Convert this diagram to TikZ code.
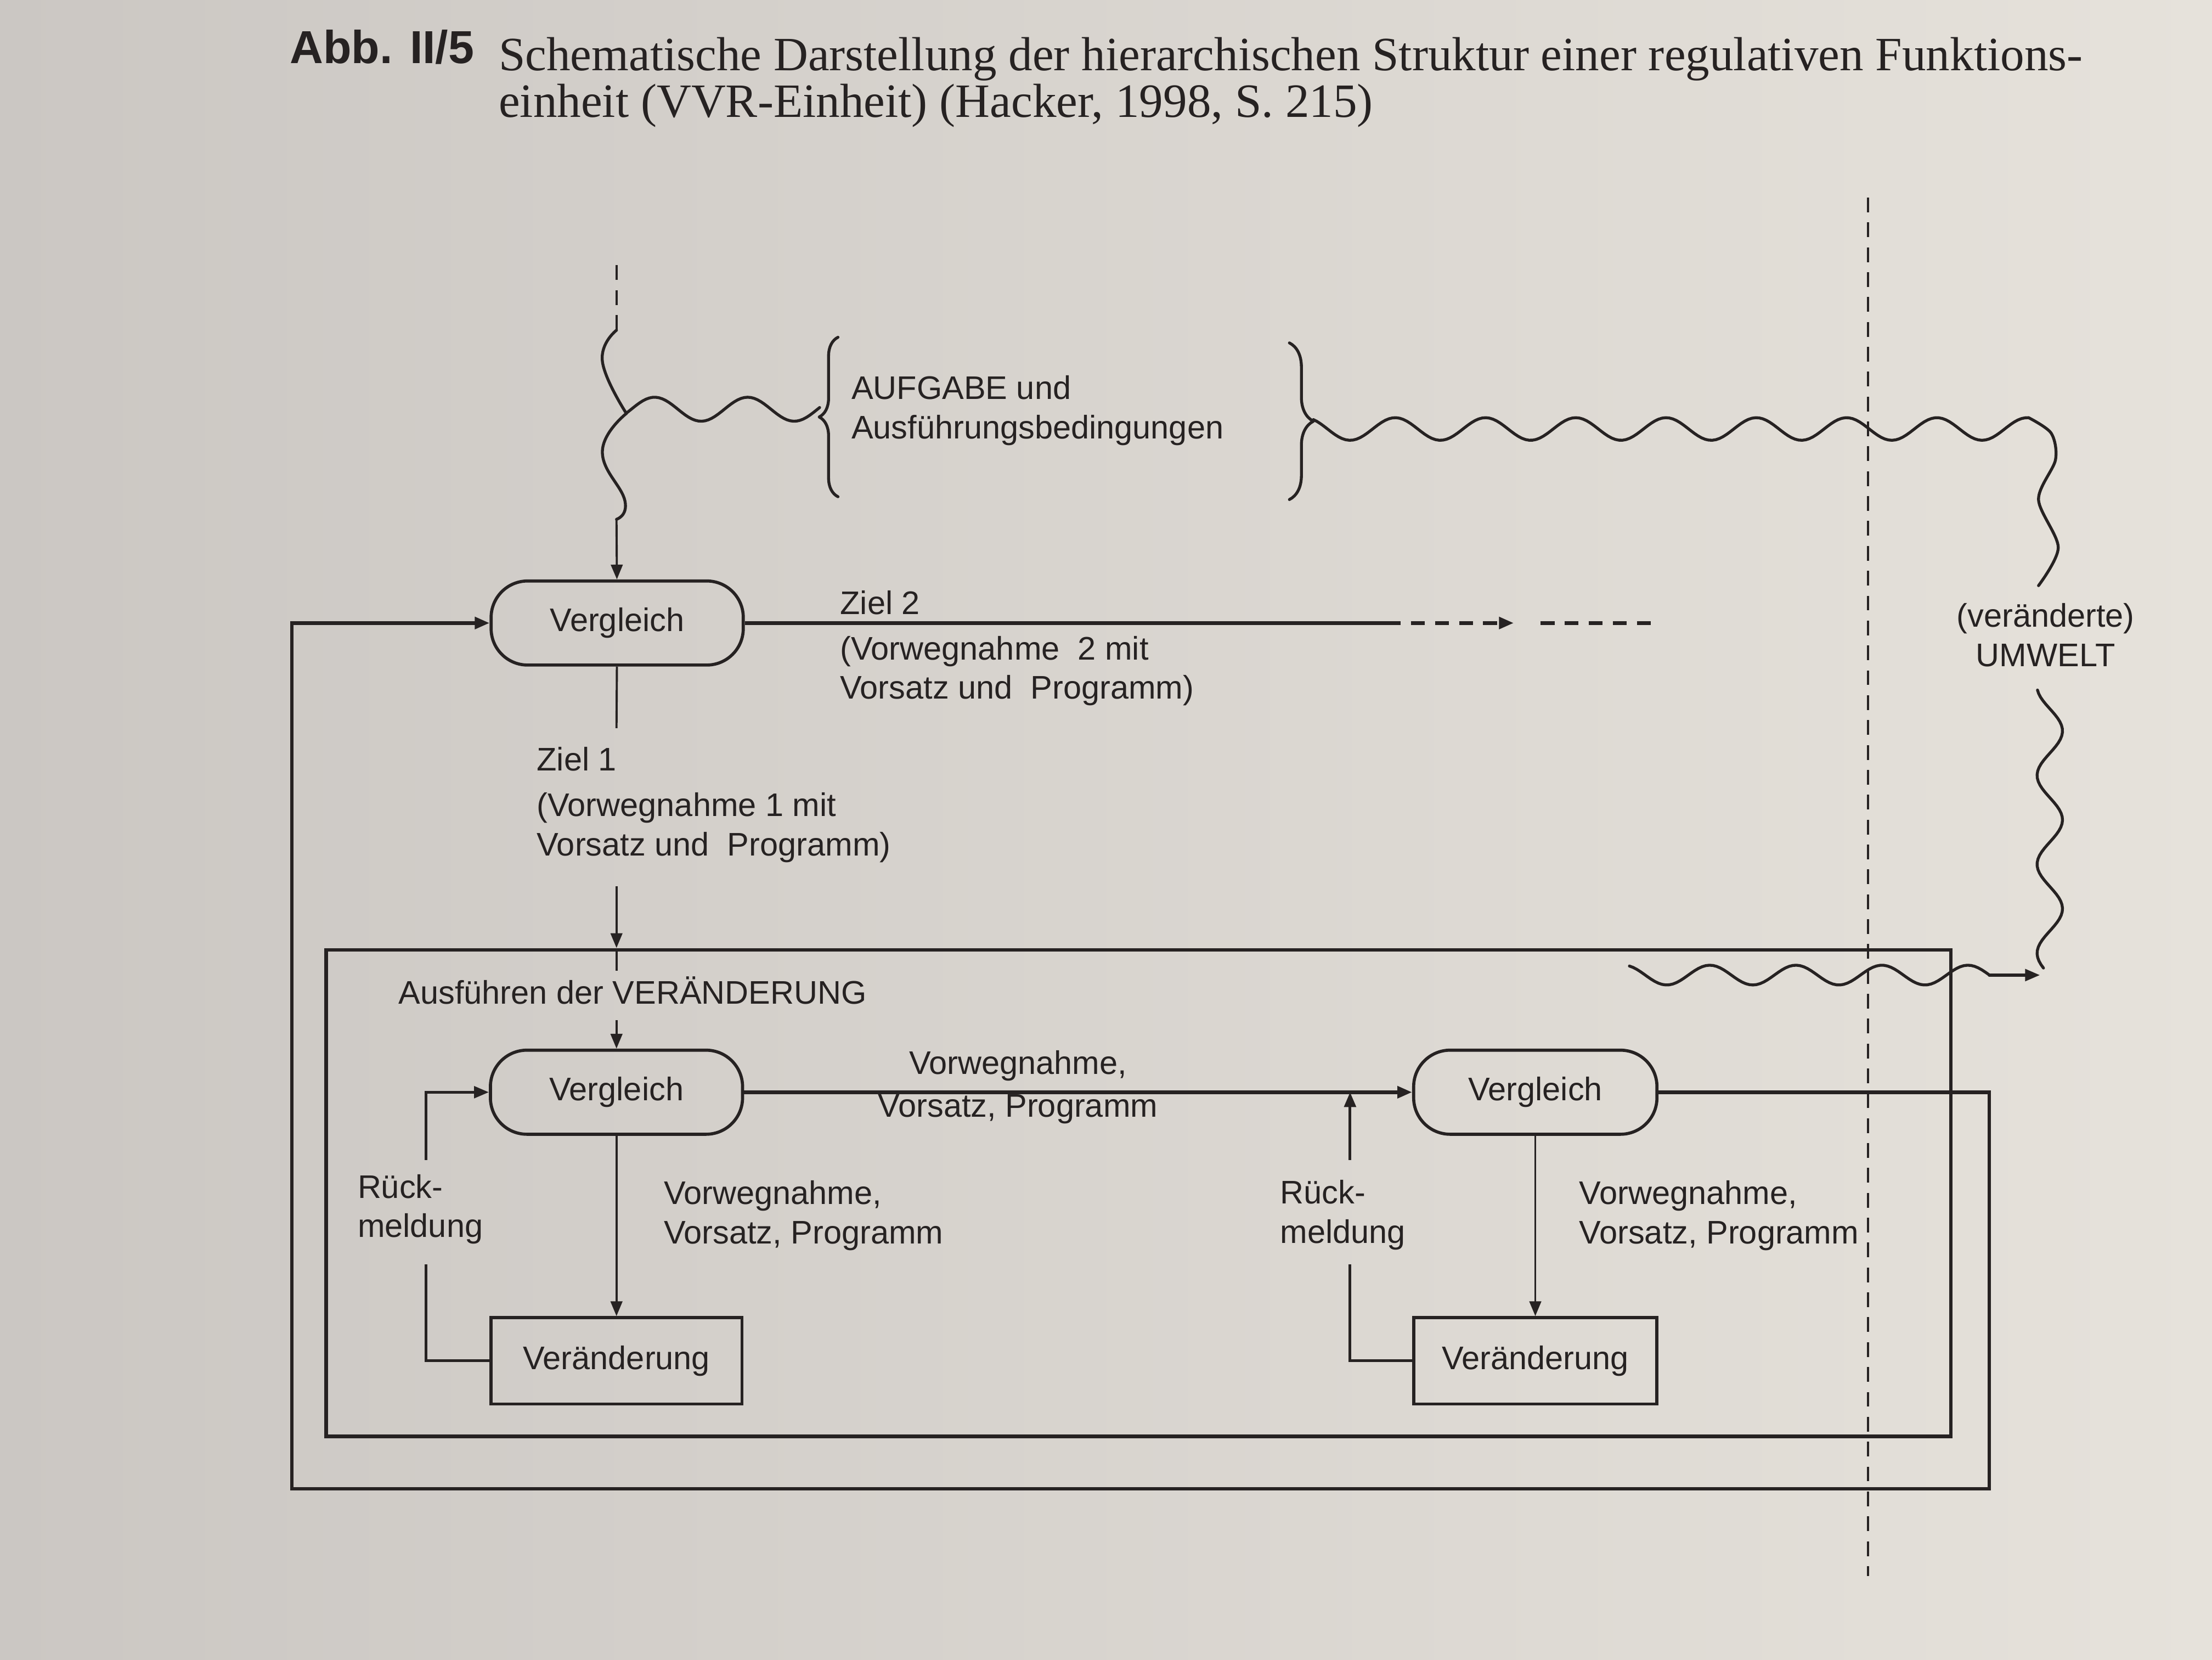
\documentclass[tikz,border=0pt]{standalone}
\usepackage{fontspec}
\setmainfont{Liberation Serif}
\setsansfont{Liberation Sans}
\usetikzlibrary{arrows.meta, positioning, decorations.pathreplacing, calc}

\definecolor{ink}{RGB}{38,34,34}
\definecolor{paperL}{RGB}{203,199,195}
\definecolor{paperR}{RGB}{230,226,219}

\begin{document}
\begin{tikzpicture}[
    x=0.012755cm, y=-0.012755cm,
    color=ink,
    font=\sffamily\fontsize{8.4}{10.1}\selectfont,
    arr/.style={-{Triangle[length=3.8pt, width=3pt]}},
    boldline/.style={line width=0.9pt},
    midline/.style={line width=0.7pt},
    thinline/.style={line width=0.55pt},
    wavy/.style={line width=0.75pt, line join=round, line cap=round},
    dashline/.style={thinline, dash pattern=on 3.8pt off 2.6pt},
    bolddash/.style={boldline, dash pattern=on 3.6pt off 2.6pt},
    vgl/.style={draw, line width=0.8pt, rounded corners=0.33cm, minimum width=2.28cm, minimum height=0.76cm, inner sep=0pt},
    vrd/.style={draw, line width=0.8pt, minimum width=2.27cm, minimum height=0.78cm, inner sep=0pt},
    txt/.style={anchor=west, align=left, inner sep=0pt},
]

% ============ Paper ============
\shade[left color=paperL, right color=paperR] (0,0) rectangle (1568,1176);
\useasboundingbox (0,0) rectangle (1568,1176);

% Caption
\node[anchor=base west, inner sep=0pt, font=\sffamily\bfseries\fontsize{11.9}{14}\selectfont] (abb) at (205,45) {Abb. II/5};
\node[anchor=base west, inner sep=0pt, font=\rmfamily\fontsize{12.3}{14}\selectfont] (cap1) at (353,50) {Schematische Darstellung der hierarchischen Struktur einer regulativen Funktions-};
\node[anchor=base west, inner sep=0pt, font=\rmfamily\fontsize{12.3}{14}\selectfont] (cap2) at (353,83) {einheit (VVR-Einheit) (Hacker, 1998, S. 215)};

% ============ Comparison units ============
\node[vgl] (vgl1) at (437.5,441.5) {Vergleich};
\node[vgl] (vgl2) at (437,774) {Vergleich};
\node[vgl, right=6.04cm of vgl2, minimum width=2.2cm] (vgl3) {Vergleich};

% Change units
\node[vrd, below=1.63cm of vgl2] (vrd1) {Veränderung};
\node[vrd, below=1.63cm of vgl3, minimum width=2.2cm] (vrd2) {Veränderung};

% Execution box
\node[draw, boldline, minimum width=14.69cm, minimum height=4.40cm, inner sep=0pt] (ausf) at (807,845.5) {};

% ============ Task input ============
\coordinate (in0) at (437,188);
\coordinate (in1) at (437,234);
\coordinate (in2) at (437,368);
\draw[dashline] (in0) -- (in1);
\draw[wavy] plot[smooth, tension=0.8] coordinates {(437,234) (427,256) (444,293)};
\draw[wavy] plot[smooth, tension=0.8] coordinates {(444,293) (427,320) (443,355) (437,368)};
\draw[thinline, arr] (in2) -- (vgl1);

% Waves and braces round the task
\draw[wavy] plot[domain=444:581, samples=60] (\x, {290 - 8.5*cos(360/66*(\x-464))});
\draw[wavy, decorate, decoration={brace, amplitude=0.17cm}] (594,352) -- (594,239);
\draw[wavy, decorate, decoration={brace, amplitude=0.217cm}] (914,243) -- (914,354);
\draw[wavy] plot[domain=931:1438, samples=200] (\x, {304 - 8*cos(360/64*(\x-989))});
\draw[wavy] plot[smooth] coordinates {(1438,296) (1454,307) (1457,326) (1445,354) (1459,388) (1445,415)};
\node[txt] (aufgabe) at (603,291) {AUFGABE und\\Ausführungsbedingungen};

% Environment
\node[align=center, inner sep=0pt] (umwelt) at (1450,450) {(veränderte)\\UMWELT};
\draw[wavy] plot[domain=489:686, samples=80] ({1453 + 9*cos(360/63*(\x-518))}, \x);
\draw[wavy] plot[domain=1155:1410, samples=100] (\x, {691 - 7*cos(360/61*(\x-1212))});
\coordinate (w1) at (1410,691);
\coordinate (w2) at (1446,691);
\draw[wavy, arr] (w1) -- (w2);

\coordinate (umw0) at (1324,140);
\coordinate (umw1) at (1324,1117);
\draw[dashline] (umw0) -- (umw1);

% ============ Ziel 2 ============
\coordinate (z2a) at (983,441.5);
\coordinate (z2b) at (1073,441.5);
\coordinate (z2c) at (1092,441.5);
\coordinate (z2d) at (1170,441.5);
\draw[boldline] (vgl1) -- (z2a);
\draw[bolddash, arr] (z2a) -- (z2b);
\draw[bolddash] (z2c) -- (z2d);
\node[txt] (ziel2) at (595,427) {Ziel 2};
\node[txt] (ziel2txt) at (595,475.5) {(Vorwegnahme\ \ 2 mit\\Vorsatz und\ \ Programm)};

% ============ Ziel 1 ============
\coordinate (z1a) at (437,516);
\coordinate (z1b) at (437,628);
\coordinate (a1) at (437,688);
\coordinate (a2) at (437,723);
\draw[thinline] (vgl1) -- (z1a);
\draw[thinline, arr] (z1b) -- (z1b |- ausf.north);
\draw[thinline] (z1b |- ausf.north) -- (a1);
\draw[thinline, arr] (a2) -- (vgl2);
\node[txt] (ziel1) at (380,538) {Ziel 1};
\node[txt] (ziel1txt) at (380,586.5) {(Vorwegnahme 1 mit\\Vorsatz und\ \ Programm)};
\node[txt] (ausftxt) at (282,702) {Ausführen der VERÄNDERUNG};

% Inner chain
\draw[boldline, arr] (vgl2) -- node[pos=0.41, yshift=0.24cm] (vvp0a) {Vorwegnahme,} node[pos=0.41, yshift=-0.155cm] (vvp0b) {Vorsatz, Programm} (vgl3);
\draw[thinline, arr] (vgl2) -- (vrd1);
\draw[thinline, arr] (vgl3) -- (vrd2);
\node[txt] (vvp1) at (470,861.5) {Vorwegnahme,\\Vorsatz, Programm};
\node[txt] (vvp2) at (1119,861.5) {Vorwegnahme,\\Vorsatz, Programm};

% Feedback
\coordinate (rl1) at (302,896);
\coordinate (rl2) at (302,822);
\draw[midline] (vrd1.west) -| (rl1);
\draw[midline, arr] (rl2) |- (vgl2.west);
\node[txt] (rueck1) at (253,857) {Rück-\\meldung};

\coordinate (rr1) at (957,896);
\coordinate (rr2) at (957,822);
\draw[midline] (vrd2.west) -| (rr1);
\draw[midline, arr] (rr2) -- (rr2 |- vgl2.east);
\node[txt] (rueck2) at (907,861) {Rück-\\meldung};

% Outer loop
\coordinate (loopr) at (1410,1055);
\coordinate (loopl) at (207,1055);
\draw[boldline, arr] (vgl3.east) -| (loopr) -- (loopl) |- (vgl1.west);

\end{tikzpicture}
\end{document}
